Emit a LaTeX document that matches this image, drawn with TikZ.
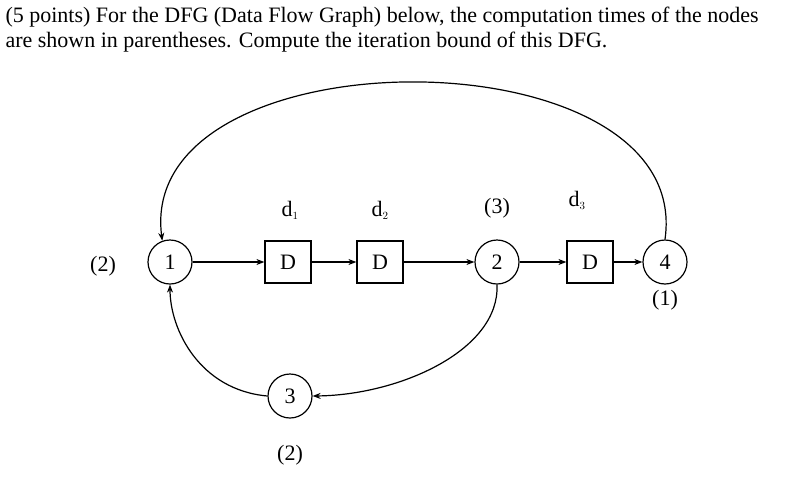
\documentclass[tikz,border=0pt]{standalone}
\usepackage{fontspec}
\setmainfont{Liberation Serif}
\usetikzlibrary{arrows.meta}
\begin{document}
\begin{tikzpicture}[x=1pt, y=-1pt, >={Stealth[length=8pt, width=6pt]},
  every node/.style={font=\fontsize{22}{26}\selectfont},
  proc/.style={circle, draw, line width=1.2pt, minimum size=44pt, inner sep=0pt},
  delay/.style={draw, line width=1.2pt, minimum width=46pt, minimum height=42pt, inner sep=0pt}]
\useasboundingbox (0,0) rectangle (800,490);
\node [anchor=west] (title1) at (2,17) {(5 points) For the DFG (Data Flow Graph) below, the computation times of the nodes};
\node [anchor=west] (title2) at (2,42) {are shown in parentheses. Compute the iteration bound of this DFG.};
\node [proc] (n1) at (170,262) {1};
\node [delay] (da) at (288,262) {D};
\node [delay] (db) at (380,262) {D};
\node [proc] (n2) at (497,262) {2};
\node [delay] (dc) at (590,262) {D};
\node [proc] (n4) at (665,262) {4};
\node [proc] (n3) at (290,396) {3};
\node (t1) at (103,266) {(2)};
\node (t2) at (497,208) {(3)};
\node (t4) at (665,300) {(1)};
\node (t3) at (290,455) {(2)};
\node (la) at (290,210) {d$_{\scriptscriptstyle 1}$};
\node (lb) at (380,210) {d$_{\scriptscriptstyle 2}$};
\node (lc) at (577,200) {d$_{\scriptscriptstyle 3}$};
% forward path
\draw [->, line width=1.2pt] (n1) -- (da);
\draw [->, line width=1.2pt] (da) -- (db);
\draw [->, line width=1.2pt] (db) -- (n2);
\draw [->, line width=1.2pt] (n2) -- (dc);
\draw [->, line width=1.2pt] (dc) -- (n4);
% loops
\draw [->, line width=1.2pt] (n4.north) .. controls (695,30) and (135,30) .. (n1.110);
\draw [->, line width=1.2pt] (n2.south) .. controls (500,350) and (400,395) .. (n3.east);
\draw [->, line width=1.2pt] (n3.west) .. controls (200,390) and (170,330) .. (n1.south);
\end{tikzpicture}
\end{document}
